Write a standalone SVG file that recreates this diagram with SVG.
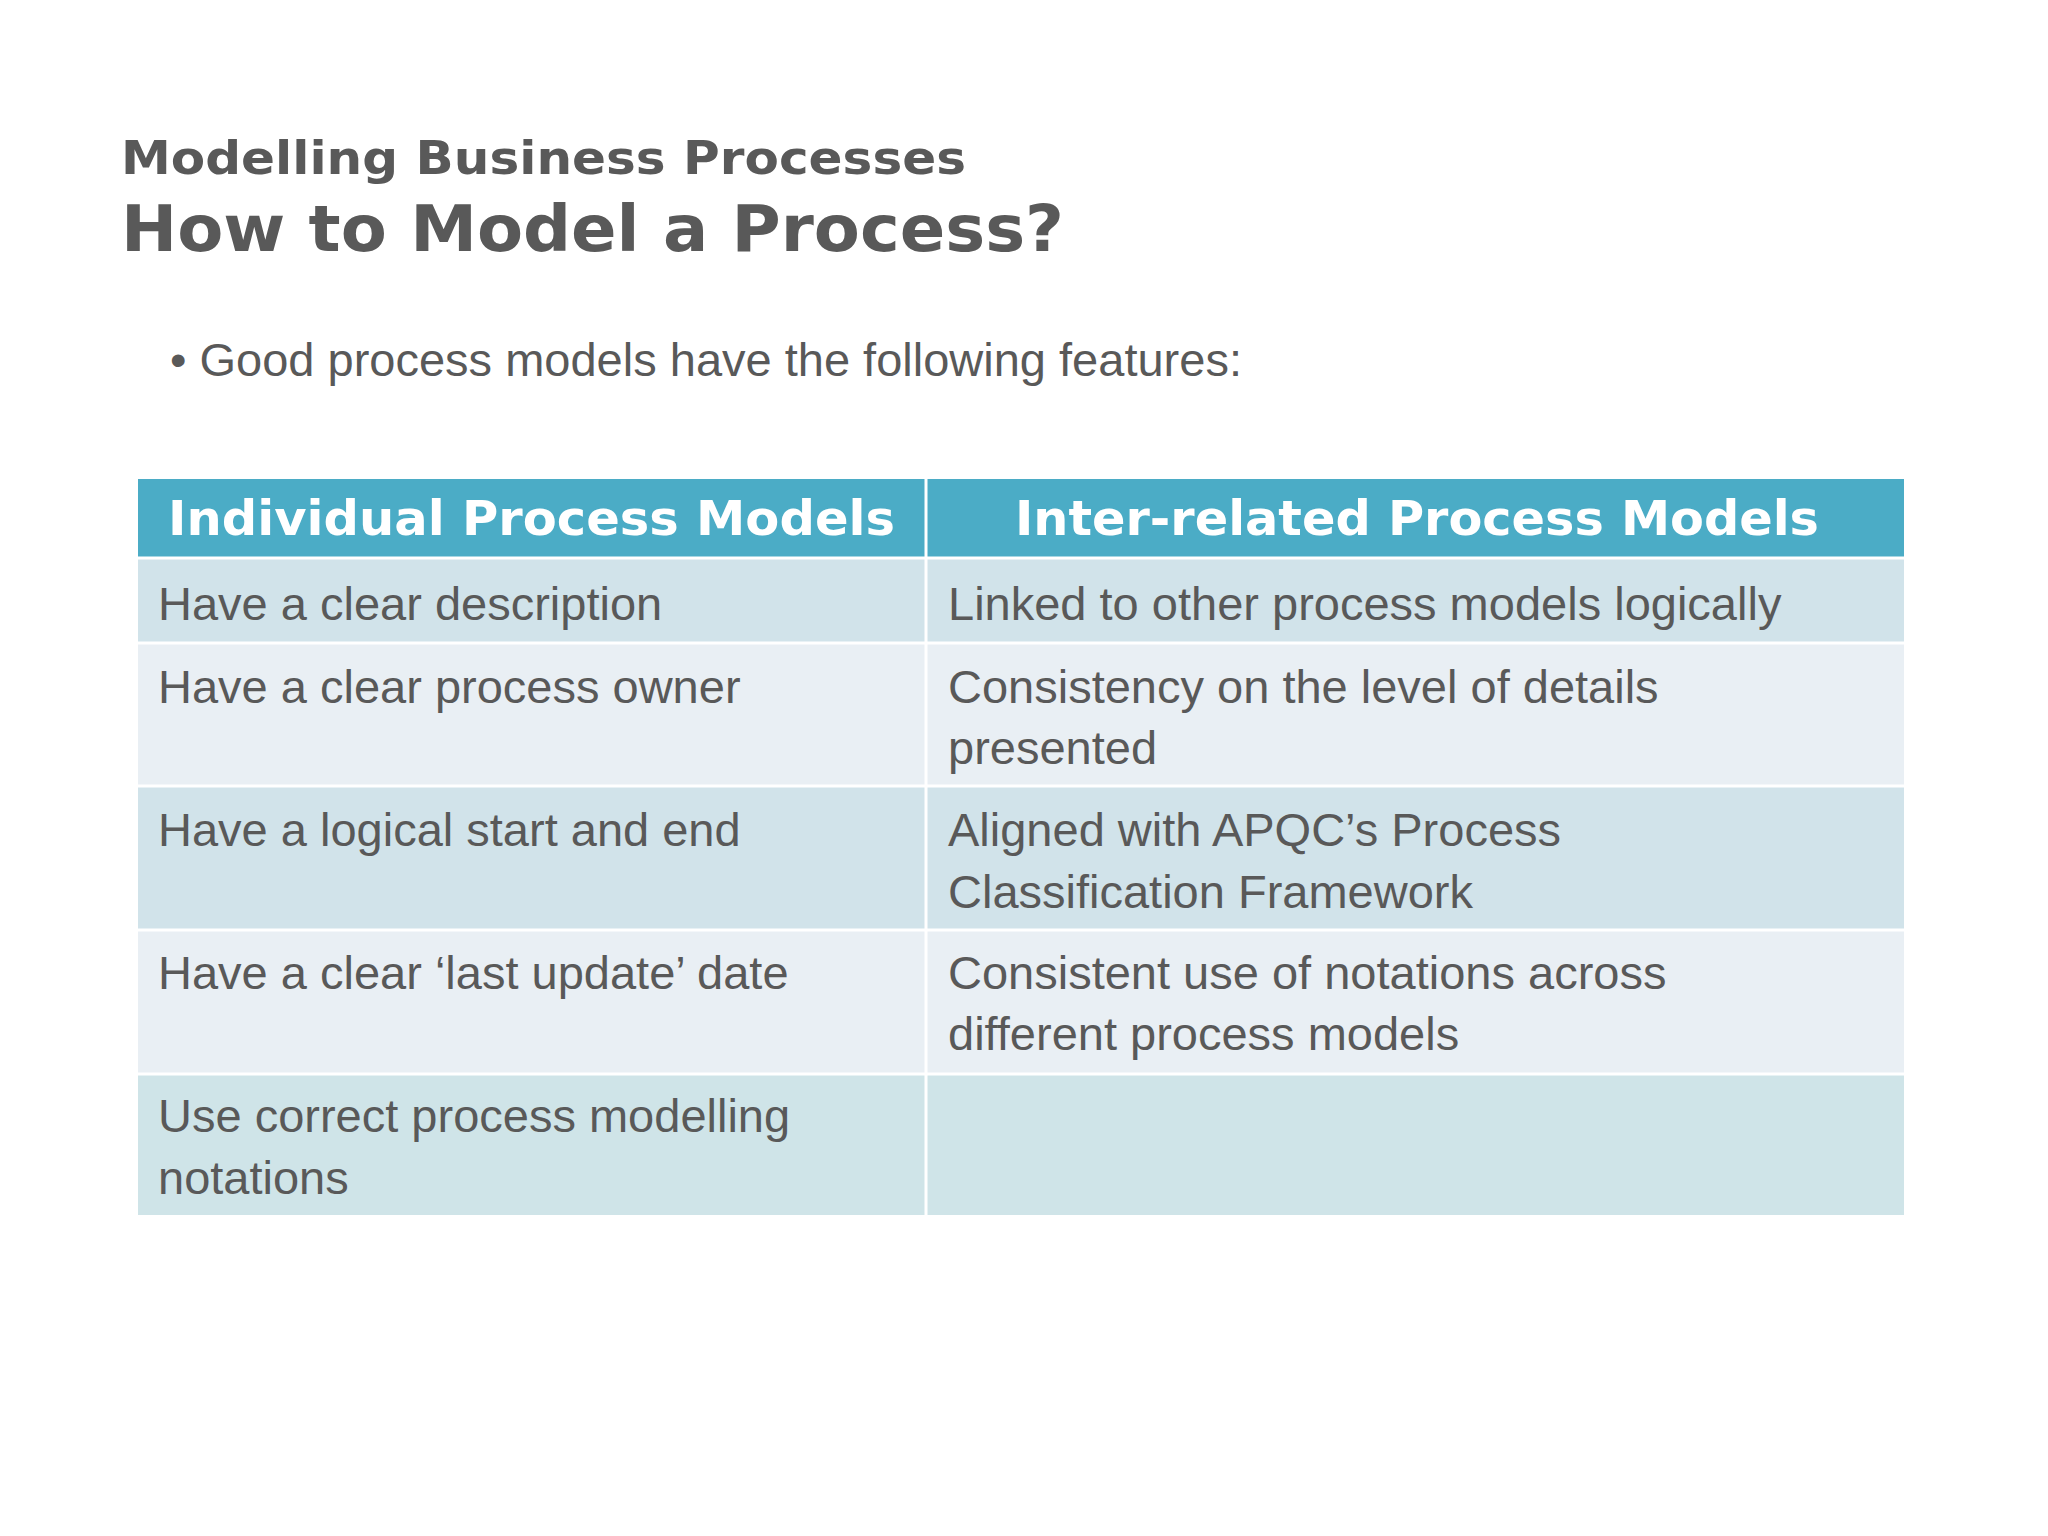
<svg xmlns="http://www.w3.org/2000/svg" width="2048" height="1536" viewBox="0 0 2048 1536">
<style>
.t{font-family:"Liberation Sans",Arial,sans-serif;fill:#595959;font-size:47px}
.h{font-family:"DejaVu Sans",sans-serif;font-weight:bold;fill:#fff;font-size:48px}
.ti{font-family:"DejaVu Sans",sans-serif;font-weight:bold;fill:#595959}
.ln{stroke:#fff;stroke-width:3}
</style>
<rect width="2048" height="1536" fill="#fff"/>
<g id="title">
<text class="ti" x="121" y="174" font-size="46" textLength="845" lengthAdjust="spacingAndGlyphs">Modelling Business Processes</text>
<text class="ti" x="121" y="251" font-size="64" textLength="943" lengthAdjust="spacingAndGlyphs">How to Model a Process?</text>
</g>
<g id="bullet"><text class="t" x="170" y="376" font-size="50">• Good process models have the following features:</text></g>
<g id="table">
<rect x="138" y="479" width="1766" height="79" fill="#4BACC6"/>
<rect x="138" y="558" width="1766" height="85" fill="#D1E3EA"/>
<rect x="138" y="643" width="1766" height="143" fill="#E9EFF4"/>
<rect x="138" y="786" width="1766" height="144" fill="#D1E3EA"/>
<rect x="138" y="930" width="1766" height="144" fill="#E9EFF4"/>
<rect x="138" y="1074" width="1766" height="141" fill="#CFE4E8"/>
<line class="ln" x1="926" y1="479" x2="926" y2="1215"/>
<line class="ln" x1="138" y1="558" x2="1904" y2="558"/>
<line class="ln" x1="138" y1="643" x2="1904" y2="643"/>
<line class="ln" x1="138" y1="786" x2="1904" y2="786"/>
<line class="ln" x1="138" y1="930" x2="1904" y2="930"/>
<line class="ln" x1="138" y1="1074" x2="1904" y2="1074"/>
<text class="h" x="168" y="535" textLength="727" lengthAdjust="spacingAndGlyphs">Individual Process Models</text>
<text class="h" x="1015" y="535" textLength="804" lengthAdjust="spacingAndGlyphs">Inter-related Process Models</text>
<text class="t" x="158" y="620">Have a clear description</text>
<text class="t" x="948" y="620">Linked to other process models logically</text>
<text class="t" x="158" y="703">Have a clear process owner</text>
<text class="t" x="948" y="703">Consistency on the level of details</text>
<text class="t" x="948" y="764">presented</text>
<text class="t" x="158" y="846">Have a logical start and end</text>
<text class="t" x="948" y="846">Aligned with APQC’s Process</text>
<text class="t" x="948" y="908">Classification Framework</text>
<text class="t" x="158" y="989">Have a clear ‘last update’ date</text>
<text class="t" x="948" y="989">Consistent use of notations across</text>
<text class="t" x="948" y="1050">different process models</text>
<text class="t" x="158" y="1132">Use correct process modelling</text>
<text class="t" x="158" y="1194">notations</text>
</g>
</svg>
